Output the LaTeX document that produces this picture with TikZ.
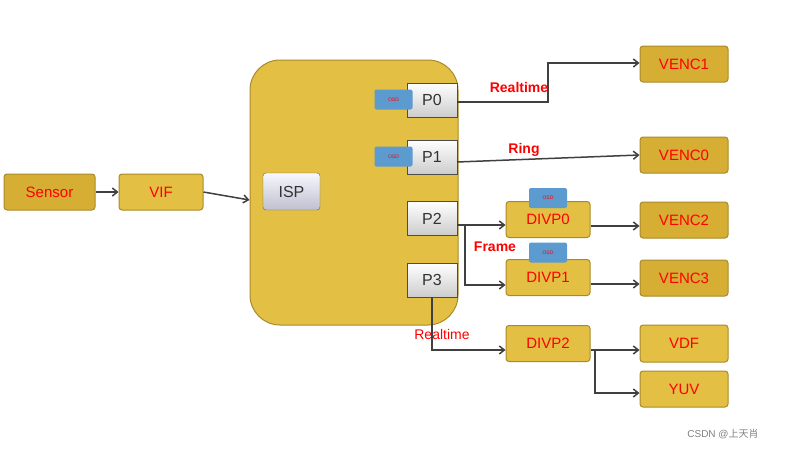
\documentclass[tikz,border=0pt]{standalone}
\usepackage{fontspec}
\setmainfont{Liberation Sans}
\newfontfamily\cjk{Noto Sans CJK SC}
\usetikzlibrary{arrows.meta,shadows}
\definecolor{gold}{HTML}{E3C044}
\definecolor{dgold}{HTML}{D6AE34}
\definecolor{bord}{HTML}{A88A2A}
\definecolor{osdb}{HTML}{5B9BD0}
\tikzset{
 box/.style={draw=bord,line width=1pt,rounded corners=3pt,fill=gold,minimum width=84pt,minimum height=36pt,text=red,font=\fontsize{15}{15}\selectfont,inner sep=0pt},
 port/.style={draw=black!70,line width=0.6pt,top color=white,bottom color=black!20,minimum width=50pt,minimum height=34pt,text=black!80,font=\fontsize{16}{16}\selectfont,inner sep=0pt},
 osd/.style={fill=osdb,rounded corners=2pt,minimum width=38pt,minimum height=20pt,text=red,font=\fontsize{5}{5}\selectfont,inner sep=0pt},
 lbl/.style={text=red,font=\bfseries\fontsize{14}{14}\selectfont},
 con/.style={draw=black!75,line width=1.5pt,-{Straight Barb[length=5pt,width=8pt]}}
}
\begin{document}
\begin{tikzpicture}[x=1pt,y=-1pt]
\useasboundingbox (0,0) rectangle (788,450);
\node[box,fill=dgold,minimum width=91pt] (sensor) at (49.5,192) {Sensor};
\node[box] (vif) at (161,192) {VIF};
\node[draw=bord,line width=1pt,fill=gold,rounded corners=30pt,minimum width=208pt,minimum height=265pt] (ispbox) at (354,192.5) {};
\node[draw=black!60,rounded corners=3pt,top color=blue!3,bottom color=blue!25!black!25,minimum width=57pt,minimum height=37pt,font=\fontsize{16}{16}\selectfont,text=black!80,inner sep=0pt] (isp) at (291.5,191.5) {ISP};
\node[port] (p0) at (432,100) {P0};
\node[port] (p1) at (432,157) {P1};
\node[port] (p2) at (432,218.5) {P2};
\node[port] (p3) at (432,280) {P3};
\node[osd] (o0) at (393.5,99.5) {OSD};
\node[osd] (o1) at (393.5,156.5) {OSD};
\node[box] (divp0) at (548,219.5) {DIVP0};
\node[box] (divp1) at (548,277.5) {DIVP1};
\node[box] (divp2) at (548,343.5) {DIVP2};
\node[osd] (o2) at (548,198) {OSD};
\node[osd] (o3) at (548,252.5) {OSD};
\node[box,fill=dgold,minimum width=88pt] (venc1) at (684,64) {VENC1};
\node[box,fill=dgold,minimum width=88pt] (venc0) at (684,155) {VENC0};
\node[box,fill=dgold,minimum width=88pt] (venc2) at (684,220) {VENC2};
\node[box,fill=dgold,minimum width=88pt] (venc3) at (684,278) {VENC3};
\node[box,minimum width=88pt,minimum height=37pt] (vdf) at (684,343.5) {VDF};
\node[box,minimum width=88pt] (yuv) at (684,389) {YUV};
\draw[con] (sensor) -- (vif);
\draw[con] (vif.east) -- (ispbox.west|-0,200);
\draw[con] (p0.east|-0,126) ++(0,-24) coordinate (a0) -- (548,102) -- (548,63) -- (venc1.west|-0,63);
\draw[con] (457,162) -- (venc0.west);
\draw[con] (457,225) -- (divp0.west|-0,225);
\draw[con] (465,225) -- (465,285) -- (divp1.west|-0,285);
\draw[con] (divp0.east|-0,226) -- (venc2.west|-0,226);
\draw[con] (divp1.east|-0,284) -- (venc3.west|-0,284);
\draw[con] (p3.south) -- (432,350) -- (divp2.west|-0,350);
\draw[con] (divp2.east|-0,350) -- (vdf.west|-0,350);
\draw[con] (595,350) -- (595,393) -- (yuv.west|-0,393);
\node[lbl] (l1) at (519,87) {Realtime};
\node[lbl] (l2) at (524,150) {Ring};
\node[lbl] (l3) at (495,247) {Frame};
\node[lbl,font=\fontsize{14}{14}\selectfont] (l4) at (442,334) {Realtime};
\node[text=black!50,font=\fontsize{10}{10}\selectfont,inner sep=0pt] (wm) at (723,434) {CSDN @{\cjk 上天肖}};
\end{tikzpicture}
\end{document}
